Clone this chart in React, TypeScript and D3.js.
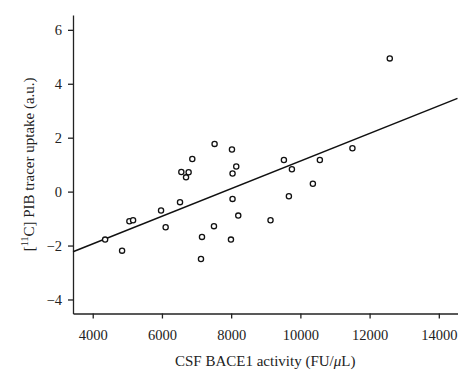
import { useEffect, useRef } from "react";
import * as d3 from "d3";

const W = 474;
const H = 384;
const FONT = "'Liberation Serif', 'DejaVu Serif', serif";

// CSF BACE1 activity (FU/uL)
const bace1 = [
  4358, 4848, 5059, 5166, 5974, 6107, 6522, 6560, 6771, 6696, 6877, 7521, 7157, 7128, 7503,
  8023, 8147, 8040, 8040, 8205, 7994, 9137, 9524, 9755, 9668, 10361, 10563, 11504, 12583,
];
// [11C] PIB tracer uptake (a.u.)
const pib = [
  -1.78, -2.19, -1.1, -1.06, -0.7, -1.32, -0.39, 0.73, 0.72, 0.53, 1.21, 1.77, -1.68, -2.5, -1.28,
  1.56, 0.93, 0.67, -0.27, -0.89, -1.78, -1.06, 1.17, 0.83, -0.17, 0.29, 1.17, 1.61, 4.94,
];

const xTicks = [4000, 6000, 8000, 10000, 12000, 14000];
const yTicks = [-4, -2, 0, 2, 4, 6];
const xDomain = [3430, 14540];
const yDomain = [-4.52, 6.55];

// fitted line: pib = intercept + slope * bace1
const fitIntercept = -3.988;
const fitSlope = 0.000512;

const LAYOUT = { left: 73, right: 457.5, top: 15, bottom: 313.5 };

function App() {
  const ref = useRef<SVGSVGElement>(null);

  useEffect(() => {
    const svg = d3.select(ref.current);
    svg.selectAll("*").remove();

    const x = d3.scaleLinear().domain(xDomain).range([LAYOUT.left, LAYOUT.right]);
    const y = d3.scaleLinear().domain(yDomain).range([LAYOUT.bottom, LAYOUT.top]);

    const xAxis = svg
      .append("g")
      .attr("transform", `translate(0,${LAYOUT.bottom})`)
      .call(
        d3
          .axisBottom(x)
          .tickValues(xTicks)
          .tickSize(5)
          .tickSizeOuter(0)
          .tickPadding(11)
          .tickFormat(d3.format("d"))
      );

    const yAxis = svg
      .append("g")
      .attr("transform", `translate(${LAYOUT.left},0)`)
      .call(
        d3
          .axisLeft(y)
          .tickValues(yTicks)
          .tickSize(5)
          .tickSizeOuter(0)
          .tickPadding(6)
          .tickFormat((d) => (+d < 0 ? "\u2212" + Math.abs(+d) : String(d)))
      );

    [xAxis, yAxis].forEach((a) => {
      a.select(".domain").attr("stroke", "#222").attr("stroke-width", 1.3);
      a.selectAll(".tick line").attr("stroke", "#222").attr("stroke-width", 1.3);
      a.selectAll(".tick text")
        .attr("font-family", FONT)
        .attr("font-size", 14.5)
        .attr("fill", "#222");
    });

    // regression line
    svg
      .append("line")
      .attr("x1", x(xDomain[0]))
      .attr("y1", y(fitIntercept + fitSlope * xDomain[0]))
      .attr("x2", x(xDomain[1]))
      .attr("y2", y(fitIntercept + fitSlope * xDomain[1]))
      .attr("stroke", "#111")
      .attr("stroke-width", 1.5);

    // points
    svg
      .append("g")
      .selectAll("circle")
      .data(bace1)
      .join("circle")
      .attr("cx", (d) => x(d))
      .attr("cy", (_d, i) => y(pib[i]))
      .attr("r", 2.6)
      .attr("fill", "white")
      .attr("stroke", "#111")
      .attr("stroke-width", 1.3);

    // axis titles
    const xt = svg
      .append("text")
      .attr("x", (LAYOUT.left + LAYOUT.right) / 2)
      .attr("y", 366)
      .attr("text-anchor", "middle")
      .attr("font-family", FONT)
      .attr("font-size", 15)
      .attr("fill", "#222");
    xt.append("tspan").text("CSF BACE1 activity (FU/");
    xt.append("tspan").attr("font-style", "italic").text("\u03bc");
    xt.append("tspan").text("L)");

    const yt = svg
      .append("text")
      .attr("transform", `translate(34,${(LAYOUT.top + LAYOUT.bottom) / 2}) rotate(-90)`)
      .attr("text-anchor", "middle")
      .attr("font-family", FONT)
      .attr("font-size", 15)
      .attr("fill", "#222");
    yt.append("tspan").text("[");
    yt.append("tspan").attr("font-size", 10).attr("dy", -6).text("11");
    yt.append("tspan").attr("dy", 6).text("C] PIB tracer uptake (a.u.)");
  }, []);

  return (
    <svg
      ref={ref}
      width={W}
      height={H}
      style={{ position: "absolute", left: 0, top: 0, background: "white" }}
    />
  );
}

export default App;
